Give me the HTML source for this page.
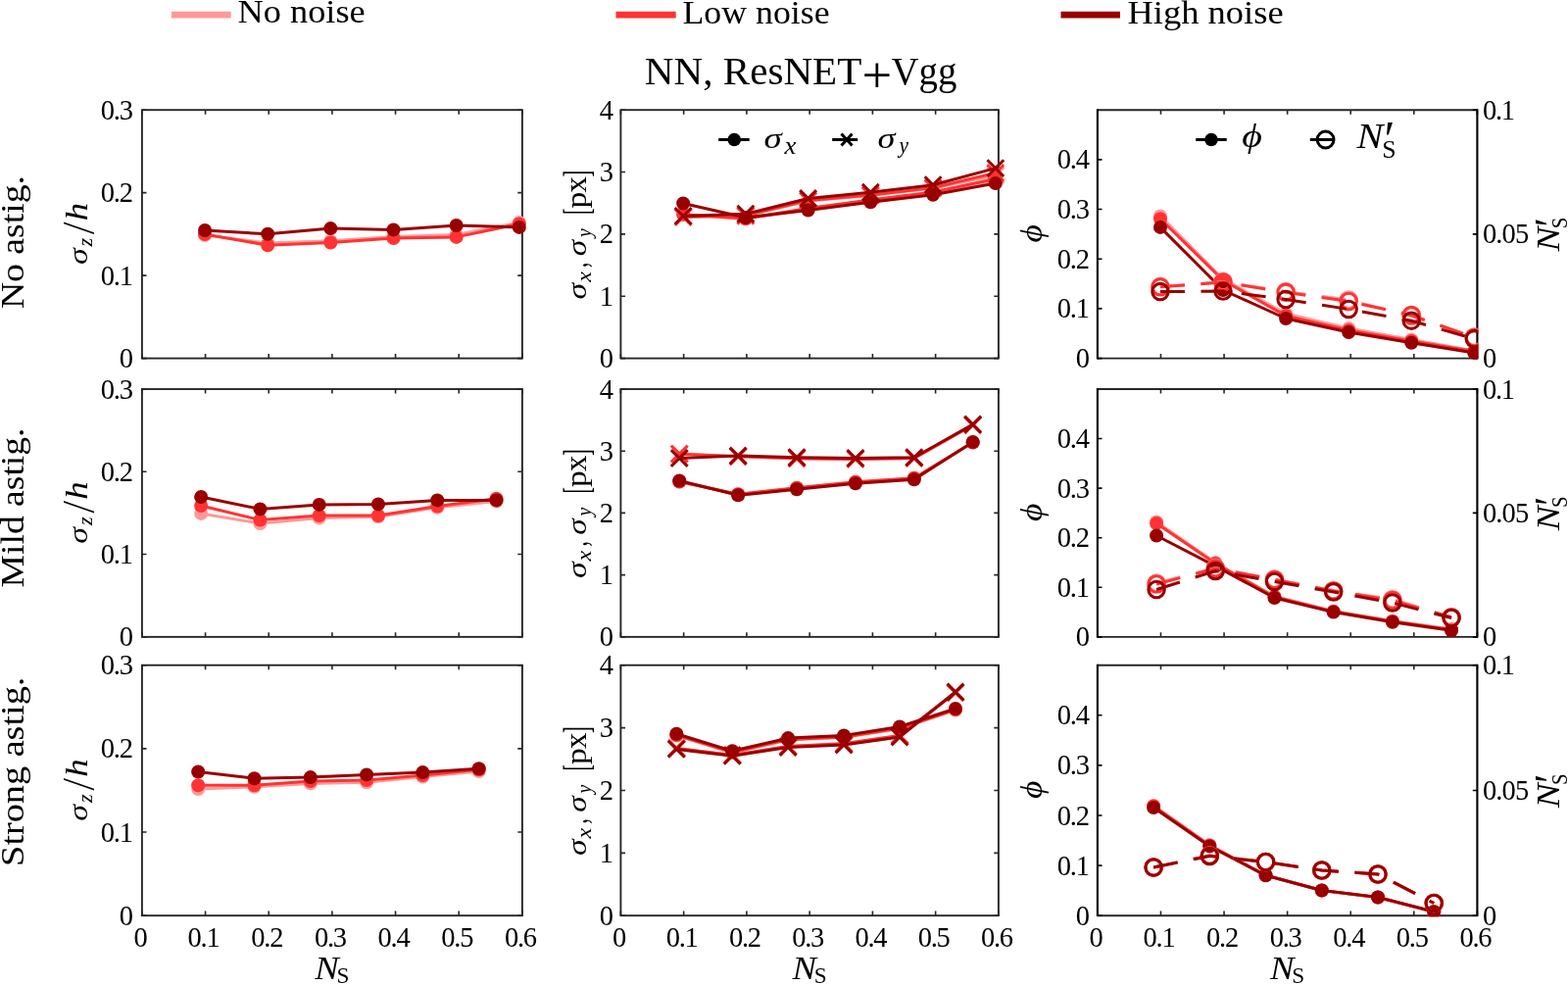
<!DOCTYPE html>
<html><head><meta charset="utf-8"><title>NN, ResNET+Vgg</title>
<style>html,body{margin:0;padding:0;background:#fff;width:1600px;height:1004px;overflow:hidden}svg{display:block}</style>
</head><body>
<svg width="1600" height="1004" viewBox="0 0 1600 1004" font-family="'Liberation Serif', 'DejaVu Serif', serif">
<rect width="1600" height="1004" fill="#fff"/>
<defs>
<clipPath id="c00"><rect x="143.90" y="111.20" width="390.00" height="255.40"/></clipPath>
<clipPath id="c01"><rect x="632.40" y="111.20" width="387.50" height="255.40"/></clipPath>
<clipPath id="c02"><rect x="1118.90" y="111.20" width="389.50" height="255.40"/></clipPath>
<clipPath id="c10"><rect x="143.90" y="396.00" width="390.00" height="254.85"/></clipPath>
<clipPath id="c11"><rect x="632.40" y="396.00" width="387.50" height="254.85"/></clipPath>
<clipPath id="c12"><rect x="1118.90" y="396.00" width="389.50" height="254.85"/></clipPath>
<clipPath id="c20"><rect x="143.90" y="677.70" width="390.00" height="257.50"/></clipPath>
<clipPath id="c21"><rect x="632.40" y="677.70" width="387.50" height="257.50"/></clipPath>
<clipPath id="c22"><rect x="1118.90" y="677.70" width="389.50" height="257.50"/></clipPath>
</defs>
<path d="M144.90 365.60V361.00M144.90 112.20V116.80M209.57 365.60V361.00M209.57 112.20V116.80M274.23 365.60V361.00M274.23 112.20V116.80M338.90 365.60V361.00M338.90 112.20V116.80M403.57 365.60V361.00M403.57 112.20V116.80M468.23 365.60V361.00M468.23 112.20V116.80M532.90 365.60V361.00M532.90 112.20V116.80M144.90 365.60H149.50M532.90 365.60H528.30M144.90 281.13H149.50M532.90 281.13H528.30M144.90 196.67H149.50M532.90 196.67H528.30M144.90 112.20H149.50M532.90 112.20H528.30" stroke="#262626" stroke-width="1.6" fill="none"/>
<rect x="144.90" y="112.20" width="388.00" height="253.40" fill="none" stroke="#262626" stroke-width="1.90"/>
<path d="M633.40 365.60V361.00M633.40 112.20V116.80M697.65 365.60V361.00M697.65 112.20V116.80M761.90 365.60V361.00M761.90 112.20V116.80M826.15 365.60V361.00M826.15 112.20V116.80M890.40 365.60V361.00M890.40 112.20V116.80M954.65 365.60V361.00M954.65 112.20V116.80M1018.90 365.60V361.00M1018.90 112.20V116.80M633.40 365.60H638.00M1018.90 365.60H1014.30M633.40 302.25H638.00M1018.90 302.25H1014.30M633.40 238.90H638.00M1018.90 238.90H1014.30M633.40 175.55H638.00M1018.90 175.55H1014.30M633.40 112.20H638.00M1018.90 112.20H1014.30" stroke="#262626" stroke-width="1.6" fill="none"/>
<rect x="633.40" y="112.20" width="385.50" height="253.40" fill="none" stroke="#262626" stroke-width="1.90"/>
<path d="M1119.90 365.60V361.00M1119.90 112.20V116.80M1184.48 365.60V361.00M1184.48 112.20V116.80M1249.07 365.60V361.00M1249.07 112.20V116.80M1313.65 365.60V361.00M1313.65 112.20V116.80M1378.23 365.60V361.00M1378.23 112.20V116.80M1442.82 365.60V361.00M1442.82 112.20V116.80M1507.40 365.60V361.00M1507.40 112.20V116.80" stroke="#262626" stroke-width="1.6" fill="none"/>
<path d="M1119.90 112.20H1507.40M1119.90 365.60H1507.40" stroke="#262626" stroke-width="1.90" fill="none"/>
<path d="M1119.90 365.60H1124.50M1119.90 314.92H1124.50M1119.90 264.24H1124.50M1119.90 213.56H1124.50M1119.90 162.88H1124.50M1507.40 365.60H1502.80M1507.40 238.90H1502.80M1507.40 112.20H1502.80" stroke="#000" stroke-width="1.6" fill="none"/>
<path d="M1119.90 111.30V366.50M1507.40 111.30V366.50" stroke="#000" stroke-width="2.10" fill="none"/>
<path d="M144.90 649.85V645.25M144.90 397.00V401.60M209.57 649.85V645.25M209.57 397.00V401.60M274.23 649.85V645.25M274.23 397.00V401.60M338.90 649.85V645.25M338.90 397.00V401.60M403.57 649.85V645.25M403.57 397.00V401.60M468.23 649.85V645.25M468.23 397.00V401.60M532.90 649.85V645.25M532.90 397.00V401.60M144.90 649.85H149.50M532.90 649.85H528.30M144.90 565.57H149.50M532.90 565.57H528.30M144.90 481.28H149.50M532.90 481.28H528.30M144.90 397.00H149.50M532.90 397.00H528.30" stroke="#262626" stroke-width="1.6" fill="none"/>
<rect x="144.90" y="397.00" width="388.00" height="252.85" fill="none" stroke="#262626" stroke-width="1.90"/>
<path d="M633.40 649.85V645.25M633.40 397.00V401.60M697.65 649.85V645.25M697.65 397.00V401.60M761.90 649.85V645.25M761.90 397.00V401.60M826.15 649.85V645.25M826.15 397.00V401.60M890.40 649.85V645.25M890.40 397.00V401.60M954.65 649.85V645.25M954.65 397.00V401.60M1018.90 649.85V645.25M1018.90 397.00V401.60M633.40 649.85H638.00M1018.90 649.85H1014.30M633.40 586.64H638.00M1018.90 586.64H1014.30M633.40 523.42H638.00M1018.90 523.42H1014.30M633.40 460.21H638.00M1018.90 460.21H1014.30M633.40 397.00H638.00M1018.90 397.00H1014.30" stroke="#262626" stroke-width="1.6" fill="none"/>
<rect x="633.40" y="397.00" width="385.50" height="252.85" fill="none" stroke="#262626" stroke-width="1.90"/>
<path d="M1119.90 649.85V645.25M1119.90 397.00V401.60M1184.48 649.85V645.25M1184.48 397.00V401.60M1249.07 649.85V645.25M1249.07 397.00V401.60M1313.65 649.85V645.25M1313.65 397.00V401.60M1378.23 649.85V645.25M1378.23 397.00V401.60M1442.82 649.85V645.25M1442.82 397.00V401.60M1507.40 649.85V645.25M1507.40 397.00V401.60" stroke="#262626" stroke-width="1.6" fill="none"/>
<path d="M1119.90 397.00H1507.40M1119.90 649.85H1507.40" stroke="#262626" stroke-width="1.90" fill="none"/>
<path d="M1119.90 649.85H1124.50M1119.90 599.28H1124.50M1119.90 548.71H1124.50M1119.90 498.14H1124.50M1119.90 447.57H1124.50M1507.40 649.85H1502.80M1507.40 523.42H1502.80M1507.40 397.00H1502.80" stroke="#000" stroke-width="1.6" fill="none"/>
<path d="M1119.90 396.10V650.75M1507.40 396.10V650.75" stroke="#000" stroke-width="2.10" fill="none"/>
<path d="M144.90 934.20V929.60M144.90 678.70V683.30M209.57 934.20V929.60M209.57 678.70V683.30M274.23 934.20V929.60M274.23 678.70V683.30M338.90 934.20V929.60M338.90 678.70V683.30M403.57 934.20V929.60M403.57 678.70V683.30M468.23 934.20V929.60M468.23 678.70V683.30M532.90 934.20V929.60M532.90 678.70V683.30M144.90 934.20H149.50M532.90 934.20H528.30M144.90 849.03H149.50M532.90 849.03H528.30M144.90 763.87H149.50M532.90 763.87H528.30M144.90 678.70H149.50M532.90 678.70H528.30" stroke="#262626" stroke-width="1.6" fill="none"/>
<rect x="144.90" y="678.70" width="388.00" height="255.50" fill="none" stroke="#262626" stroke-width="1.90"/>
<path d="M633.40 934.20V929.60M633.40 678.70V683.30M697.65 934.20V929.60M697.65 678.70V683.30M761.90 934.20V929.60M761.90 678.70V683.30M826.15 934.20V929.60M826.15 678.70V683.30M890.40 934.20V929.60M890.40 678.70V683.30M954.65 934.20V929.60M954.65 678.70V683.30M1018.90 934.20V929.60M1018.90 678.70V683.30M633.40 934.20H638.00M1018.90 934.20H1014.30M633.40 870.33H638.00M1018.90 870.33H1014.30M633.40 806.45H638.00M1018.90 806.45H1014.30M633.40 742.58H638.00M1018.90 742.58H1014.30M633.40 678.70H638.00M1018.90 678.70H1014.30" stroke="#262626" stroke-width="1.6" fill="none"/>
<rect x="633.40" y="678.70" width="385.50" height="255.50" fill="none" stroke="#262626" stroke-width="1.90"/>
<path d="M1119.90 934.20V929.60M1119.90 678.70V683.30M1184.48 934.20V929.60M1184.48 678.70V683.30M1249.07 934.20V929.60M1249.07 678.70V683.30M1313.65 934.20V929.60M1313.65 678.70V683.30M1378.23 934.20V929.60M1378.23 678.70V683.30M1442.82 934.20V929.60M1442.82 678.70V683.30M1507.40 934.20V929.60M1507.40 678.70V683.30" stroke="#262626" stroke-width="1.6" fill="none"/>
<path d="M1119.90 678.70H1507.40M1119.90 934.20H1507.40" stroke="#262626" stroke-width="1.90" fill="none"/>
<path d="M1119.90 934.20H1124.50M1119.90 883.10H1124.50M1119.90 832.00H1124.50M1119.90 780.90H1124.50M1119.90 729.80H1124.50M1507.40 934.20H1502.80M1507.40 806.45H1502.80M1507.40 678.70H1502.80" stroke="#000" stroke-width="1.6" fill="none"/>
<path d="M1119.90 677.80V935.10M1507.40 677.80V935.10" stroke="#000" stroke-width="2.10" fill="none"/>
<g><polyline points="209.05,240.00 273.20,248.00 337.35,245.80 401.50,241.50 465.65,239.50 529.80,227.00" fill="none" stroke="#ff9999" stroke-width="3.00" stroke-linejoin="round"/><circle cx="209.05" cy="240.00" r="7.00" fill="#ff9999"/><circle cx="273.20" cy="248.00" r="7.00" fill="#ff9999"/><circle cx="337.35" cy="245.80" r="7.00" fill="#ff9999"/><circle cx="401.50" cy="241.50" r="7.00" fill="#ff9999"/><circle cx="465.65" cy="239.50" r="7.00" fill="#ff9999"/><circle cx="529.80" cy="227.00" r="7.00" fill="#ff9999"/><polyline points="209.05,238.90 273.20,250.30 337.35,247.50 401.50,243.10 465.65,241.90 529.80,228.50" fill="none" stroke="#ff3333" stroke-width="3.00" stroke-linejoin="round"/><circle cx="209.05" cy="238.90" r="7.00" fill="#ff3333"/><circle cx="273.20" cy="250.30" r="7.00" fill="#ff3333"/><circle cx="337.35" cy="247.50" r="7.00" fill="#ff3333"/><circle cx="401.50" cy="243.10" r="7.00" fill="#ff3333"/><circle cx="465.65" cy="241.90" r="7.00" fill="#ff3333"/><circle cx="529.80" cy="228.50" r="7.00" fill="#ff3333"/><polyline points="209.05,235.00 273.20,238.75 337.35,233.10 401.50,234.40 465.65,230.00 529.80,231.90" fill="none" stroke="#990000" stroke-width="3.00" stroke-linejoin="round"/><circle cx="209.05" cy="235.00" r="7.00" fill="#990000"/><circle cx="273.20" cy="238.75" r="7.00" fill="#990000"/><circle cx="337.35" cy="233.10" r="7.00" fill="#990000"/><circle cx="401.50" cy="234.40" r="7.00" fill="#990000"/><circle cx="465.65" cy="230.00" r="7.00" fill="#990000"/><circle cx="529.80" cy="231.90" r="7.00" fill="#990000"/></g>
<g><polyline points="697.14,219.00 760.87,223.50 824.61,213.00 888.34,204.50 952.08,196.50 1015.82,184.00" fill="none" stroke="#ff9999" stroke-width="3.00" stroke-linejoin="round"/><circle cx="697.14" cy="219.00" r="7.00" fill="#ff9999"/><circle cx="760.87" cy="223.50" r="7.00" fill="#ff9999"/><circle cx="824.61" cy="213.00" r="7.00" fill="#ff9999"/><circle cx="888.34" cy="204.50" r="7.00" fill="#ff9999"/><circle cx="952.08" cy="196.50" r="7.00" fill="#ff9999"/><circle cx="1015.82" cy="184.00" r="7.00" fill="#ff9999"/><polyline points="697.14,221.50 760.87,220.50 824.61,205.00 888.34,199.50 952.08,192.00 1015.82,179.00" fill="none" stroke="#ff9999" stroke-width="3.00" stroke-linejoin="round"/><path d="M688.74 213.10L705.54 229.90M688.74 229.90L705.54 213.10" stroke="#ff9999" stroke-width="3" fill="none"/><path d="M752.47 212.10L769.27 228.90M752.47 228.90L769.27 212.10" stroke="#ff9999" stroke-width="3" fill="none"/><path d="M816.21 196.60L833.01 213.40M816.21 213.40L833.01 196.60" stroke="#ff9999" stroke-width="3" fill="none"/><path d="M879.94 191.10L896.74 207.90M879.94 207.90L896.74 191.10" stroke="#ff9999" stroke-width="3" fill="none"/><path d="M943.68 183.60L960.48 200.40M943.68 200.40L960.48 183.60" stroke="#ff9999" stroke-width="3" fill="none"/><path d="M1007.42 170.60L1024.22 187.40M1007.42 187.40L1024.22 170.60" stroke="#ff9999" stroke-width="3" fill="none"/><polyline points="697.14,218.75 760.87,223.00 824.61,212.50 888.34,204.00 952.08,196.00 1015.82,182.50" fill="none" stroke="#ff3333" stroke-width="3.00" stroke-linejoin="round"/><circle cx="697.14" cy="218.75" r="7.00" fill="#ff3333"/><circle cx="760.87" cy="223.00" r="7.00" fill="#ff3333"/><circle cx="824.61" cy="212.50" r="7.00" fill="#ff3333"/><circle cx="888.34" cy="204.00" r="7.00" fill="#ff3333"/><circle cx="952.08" cy="196.00" r="7.00" fill="#ff3333"/><circle cx="1015.82" cy="182.50" r="7.00" fill="#ff3333"/><polyline points="697.14,221.25 760.87,219.80 824.61,204.50 888.34,199.00 952.08,191.50 1015.82,176.50" fill="none" stroke="#ff3333" stroke-width="3.00" stroke-linejoin="round"/><path d="M688.74 212.85L705.54 229.65M688.74 229.65L705.54 212.85" stroke="#ff3333" stroke-width="3" fill="none"/><path d="M752.47 211.40L769.27 228.20M752.47 228.20L769.27 211.40" stroke="#ff3333" stroke-width="3" fill="none"/><path d="M816.21 196.10L833.01 212.90M816.21 212.90L833.01 196.10" stroke="#ff3333" stroke-width="3" fill="none"/><path d="M879.94 190.60L896.74 207.40M879.94 207.40L896.74 190.60" stroke="#ff3333" stroke-width="3" fill="none"/><path d="M943.68 183.10L960.48 199.90M943.68 199.90L960.48 183.10" stroke="#ff3333" stroke-width="3" fill="none"/><path d="M1007.42 168.10L1024.22 184.90M1007.42 184.90L1024.22 168.10" stroke="#ff3333" stroke-width="3" fill="none"/><polyline points="697.14,207.50 760.87,222.00 824.61,214.50 888.34,206.30 952.08,198.70 1015.82,187.10" fill="none" stroke="#990000" stroke-width="3.00" stroke-linejoin="round"/><circle cx="697.14" cy="207.50" r="7.00" fill="#990000"/><circle cx="760.87" cy="222.00" r="7.00" fill="#990000"/><circle cx="824.61" cy="214.50" r="7.00" fill="#990000"/><circle cx="888.34" cy="206.30" r="7.00" fill="#990000"/><circle cx="952.08" cy="198.70" r="7.00" fill="#990000"/><circle cx="1015.82" cy="187.10" r="7.00" fill="#990000"/><polyline points="697.14,220.40 760.87,218.20 824.61,202.50 888.34,196.30 952.08,188.70 1015.82,171.60" fill="none" stroke="#990000" stroke-width="3.00" stroke-linejoin="round"/><path d="M688.74 212.00L705.54 228.80M688.74 228.80L705.54 212.00" stroke="#990000" stroke-width="3" fill="none"/><path d="M752.47 209.80L769.27 226.60M752.47 226.60L769.27 209.80" stroke="#990000" stroke-width="3" fill="none"/><path d="M816.21 194.10L833.01 210.90M816.21 210.90L833.01 194.10" stroke="#990000" stroke-width="3" fill="none"/><path d="M879.94 187.90L896.74 204.70M879.94 204.70L896.74 187.90" stroke="#990000" stroke-width="3" fill="none"/><path d="M943.68 180.30L960.48 197.10M943.68 197.10L960.48 180.30" stroke="#990000" stroke-width="3" fill="none"/><path d="M1007.42 163.20L1024.22 180.00M1007.42 180.00L1024.22 163.20" stroke="#990000" stroke-width="3" fill="none"/></g>
<g clip-path="url(#c02)"><polyline points="1183.97,220.40 1248.03,284.50 1312.10,320.00 1376.17,335.00 1440.23,346.50 1504.30,358.00" fill="none" stroke="#ff9999" stroke-width="3.00" stroke-linejoin="round"/><circle cx="1183.97" cy="220.40" r="7.00" fill="#ff9999"/><circle cx="1248.03" cy="284.50" r="7.00" fill="#ff9999"/><circle cx="1312.10" cy="320.00" r="7.00" fill="#ff9999"/><circle cx="1376.17" cy="335.00" r="7.00" fill="#ff9999"/><circle cx="1440.23" cy="346.50" r="7.00" fill="#ff9999"/><circle cx="1504.30" cy="358.00" r="7.00" fill="#ff9999"/><polyline points="1183.97,223.20 1248.03,286.00 1312.10,322.30 1376.17,337.00 1440.23,348.00 1504.30,358.50" fill="none" stroke="#ff3333" stroke-width="3.00" stroke-linejoin="round"/><circle cx="1183.97" cy="223.20" r="7.00" fill="#ff3333"/><circle cx="1248.03" cy="286.00" r="7.00" fill="#ff3333"/><circle cx="1312.10" cy="322.30" r="7.00" fill="#ff3333"/><circle cx="1376.17" cy="337.00" r="7.00" fill="#ff3333"/><circle cx="1440.23" cy="348.00" r="7.00" fill="#ff3333"/><circle cx="1504.30" cy="358.50" r="7.00" fill="#ff3333"/><polyline points="1183.97,231.90 1248.03,296.00 1312.10,325.00 1376.17,339.00 1440.23,349.80 1504.30,360.00" fill="none" stroke="#990000" stroke-width="3.00" stroke-linejoin="round"/><circle cx="1183.97" cy="231.90" r="7.00" fill="#990000"/><circle cx="1248.03" cy="296.00" r="7.00" fill="#990000"/><circle cx="1312.10" cy="325.00" r="7.00" fill="#990000"/><circle cx="1376.17" cy="339.00" r="7.00" fill="#990000"/><circle cx="1440.23" cy="349.80" r="7.00" fill="#990000"/><circle cx="1504.30" cy="360.00" r="7.00" fill="#990000"/><polyline points="1183.97,292.50 1248.03,287.50 1312.10,297.50 1376.17,306.00 1440.23,322.50 1504.30,344.00" fill="none" stroke="#ff9999" stroke-width="3.00" stroke-linejoin="round" stroke-dasharray="25 16.5"/><circle cx="1183.97" cy="292.50" r="8.20" fill="none" stroke="#ff9999" stroke-width="3.1"/><circle cx="1248.03" cy="287.50" r="8.20" fill="none" stroke="#ff9999" stroke-width="3.1"/><circle cx="1312.10" cy="297.50" r="8.20" fill="none" stroke="#ff9999" stroke-width="3.1"/><circle cx="1376.17" cy="306.00" r="8.20" fill="none" stroke="#ff9999" stroke-width="3.1"/><circle cx="1440.23" cy="322.50" r="8.20" fill="none" stroke="#ff9999" stroke-width="3.1"/><circle cx="1504.30" cy="344.00" r="8.20" fill="none" stroke="#ff9999" stroke-width="3.1"/><polyline points="1183.97,292.80 1248.03,288.00 1312.10,298.30 1376.17,307.50 1440.23,321.50 1504.30,344.50" fill="none" stroke="#ff3333" stroke-width="3.00" stroke-linejoin="round" stroke-dasharray="25 16.5"/><circle cx="1183.97" cy="292.80" r="8.20" fill="none" stroke="#ff3333" stroke-width="3.1"/><circle cx="1248.03" cy="288.00" r="8.20" fill="none" stroke="#ff3333" stroke-width="3.1"/><circle cx="1312.10" cy="298.30" r="8.20" fill="none" stroke="#ff3333" stroke-width="3.1"/><circle cx="1376.17" cy="307.50" r="8.20" fill="none" stroke="#ff3333" stroke-width="3.1"/><circle cx="1440.23" cy="321.50" r="8.20" fill="none" stroke="#ff3333" stroke-width="3.1"/><circle cx="1504.30" cy="344.50" r="8.20" fill="none" stroke="#ff3333" stroke-width="3.1"/><polyline points="1183.97,297.60 1248.03,297.10 1312.10,305.50 1376.17,315.50 1440.23,327.20 1504.30,345.80" fill="none" stroke="#990000" stroke-width="3.00" stroke-linejoin="round" stroke-dasharray="25 16.5"/><circle cx="1183.97" cy="297.60" r="8.20" fill="none" stroke="#990000" stroke-width="3.1"/><circle cx="1248.03" cy="297.10" r="8.20" fill="none" stroke="#990000" stroke-width="3.1"/><circle cx="1312.10" cy="305.50" r="8.20" fill="none" stroke="#990000" stroke-width="3.1"/><circle cx="1376.17" cy="315.50" r="8.20" fill="none" stroke="#990000" stroke-width="3.1"/><circle cx="1440.23" cy="327.20" r="8.20" fill="none" stroke="#990000" stroke-width="3.1"/><circle cx="1504.30" cy="345.80" r="8.20" fill="none" stroke="#990000" stroke-width="3.1"/></g>
<g><polyline points="205.17,523.90 265.44,534.00 325.71,528.40 385.98,527.25 446.25,517.80 506.52,511.50" fill="none" stroke="#ff9999" stroke-width="3.00" stroke-linejoin="round"/><circle cx="205.17" cy="523.90" r="7.00" fill="#ff9999"/><circle cx="265.44" cy="534.00" r="7.00" fill="#ff9999"/><circle cx="325.71" cy="528.40" r="7.00" fill="#ff9999"/><circle cx="385.98" cy="527.25" r="7.00" fill="#ff9999"/><circle cx="446.25" cy="517.80" r="7.00" fill="#ff9999"/><circle cx="506.52" cy="511.50" r="7.00" fill="#ff9999"/><polyline points="205.17,516.00 265.44,530.60 325.71,526.10 385.98,526.10 446.25,516.50 506.52,508.80" fill="none" stroke="#ff3333" stroke-width="3.00" stroke-linejoin="round"/><circle cx="205.17" cy="516.00" r="7.00" fill="#ff3333"/><circle cx="265.44" cy="530.60" r="7.00" fill="#ff3333"/><circle cx="325.71" cy="526.10" r="7.00" fill="#ff3333"/><circle cx="385.98" cy="526.10" r="7.00" fill="#ff3333"/><circle cx="446.25" cy="516.50" r="7.00" fill="#ff3333"/><circle cx="506.52" cy="508.80" r="7.00" fill="#ff3333"/><polyline points="205.17,507.00 265.44,519.40 325.71,514.90 385.98,514.40 446.25,510.40 506.52,510.40" fill="none" stroke="#990000" stroke-width="3.00" stroke-linejoin="round"/><circle cx="205.17" cy="507.00" r="7.00" fill="#990000"/><circle cx="265.44" cy="519.40" r="7.00" fill="#990000"/><circle cx="325.71" cy="514.90" r="7.00" fill="#990000"/><circle cx="385.98" cy="514.40" r="7.00" fill="#990000"/><circle cx="446.25" cy="510.40" r="7.00" fill="#990000"/><circle cx="506.52" cy="510.40" r="7.00" fill="#990000"/></g>
<g><polyline points="693.28,491.50 753.16,504.50 813.04,498.00 872.92,492.00 932.81,488.00 992.69,451.50" fill="none" stroke="#ff9999" stroke-width="3.00" stroke-linejoin="round"/><circle cx="693.28" cy="491.50" r="7.00" fill="#ff9999"/><circle cx="753.16" cy="504.50" r="7.00" fill="#ff9999"/><circle cx="813.04" cy="498.00" r="7.00" fill="#ff9999"/><circle cx="872.92" cy="492.00" r="7.00" fill="#ff9999"/><circle cx="932.81" cy="488.00" r="7.00" fill="#ff9999"/><circle cx="992.69" cy="451.50" r="7.00" fill="#ff9999"/><polyline points="693.28,463.00 753.16,465.80 813.04,467.80 872.92,468.40 932.81,467.60 992.69,434.00" fill="none" stroke="#ff9999" stroke-width="3.00" stroke-linejoin="round"/><path d="M684.88 454.60L701.68 471.40M684.88 471.40L701.68 454.60" stroke="#ff9999" stroke-width="3" fill="none"/><path d="M744.76 457.40L761.56 474.20M744.76 474.20L761.56 457.40" stroke="#ff9999" stroke-width="3" fill="none"/><path d="M804.64 459.40L821.44 476.20M804.64 476.20L821.44 459.40" stroke="#ff9999" stroke-width="3" fill="none"/><path d="M864.52 460.00L881.32 476.80M864.52 476.80L881.32 460.00" stroke="#ff9999" stroke-width="3" fill="none"/><path d="M924.41 459.20L941.21 476.00M924.41 476.00L941.21 459.20" stroke="#ff9999" stroke-width="3" fill="none"/><path d="M984.29 425.60L1001.09 442.40M984.29 442.40L1001.09 425.60" stroke="#ff9999" stroke-width="3" fill="none"/><polyline points="693.28,491.50 753.16,504.30 813.04,497.80 872.92,491.80 932.81,487.80 992.69,451.50" fill="none" stroke="#ff3333" stroke-width="3.00" stroke-linejoin="round"/><circle cx="693.28" cy="491.50" r="7.00" fill="#ff3333"/><circle cx="753.16" cy="504.30" r="7.00" fill="#ff3333"/><circle cx="813.04" cy="497.80" r="7.00" fill="#ff3333"/><circle cx="872.92" cy="491.80" r="7.00" fill="#ff3333"/><circle cx="932.81" cy="487.80" r="7.00" fill="#ff3333"/><circle cx="992.69" cy="451.50" r="7.00" fill="#ff3333"/><polyline points="693.28,463.20 753.16,465.70 813.04,467.70 872.92,468.40 932.81,467.50 992.69,433.50" fill="none" stroke="#ff3333" stroke-width="3.00" stroke-linejoin="round"/><path d="M684.88 454.80L701.68 471.60M684.88 471.60L701.68 454.80" stroke="#ff3333" stroke-width="3" fill="none"/><path d="M744.76 457.30L761.56 474.10M744.76 474.10L761.56 457.30" stroke="#ff3333" stroke-width="3" fill="none"/><path d="M804.64 459.30L821.44 476.10M804.64 476.10L821.44 459.30" stroke="#ff3333" stroke-width="3" fill="none"/><path d="M864.52 460.00L881.32 476.80M864.52 476.80L881.32 460.00" stroke="#ff3333" stroke-width="3" fill="none"/><path d="M924.41 459.10L941.21 475.90M924.41 475.90L941.21 459.10" stroke="#ff3333" stroke-width="3" fill="none"/><path d="M984.29 425.10L1001.09 441.90M984.29 441.90L1001.09 425.10" stroke="#ff3333" stroke-width="3" fill="none"/><polyline points="693.28,490.50 753.16,505.30 813.04,499.30 872.92,493.25 932.81,489.20 992.69,451.00" fill="none" stroke="#990000" stroke-width="3.00" stroke-linejoin="round"/><circle cx="693.28" cy="490.50" r="7.00" fill="#990000"/><circle cx="753.16" cy="505.30" r="7.00" fill="#990000"/><circle cx="813.04" cy="499.30" r="7.00" fill="#990000"/><circle cx="872.92" cy="493.25" r="7.00" fill="#990000"/><circle cx="932.81" cy="489.20" r="7.00" fill="#990000"/><circle cx="992.69" cy="451.00" r="7.00" fill="#990000"/><polyline points="693.28,467.50 753.16,465.00 813.04,466.70 872.92,467.40 932.81,466.70 992.69,433.00" fill="none" stroke="#990000" stroke-width="3.00" stroke-linejoin="round"/><path d="M684.88 459.10L701.68 475.90M684.88 475.90L701.68 459.10" stroke="#990000" stroke-width="3" fill="none"/><path d="M744.76 456.60L761.56 473.40M744.76 473.40L761.56 456.60" stroke="#990000" stroke-width="3" fill="none"/><path d="M804.64 458.30L821.44 475.10M804.64 475.10L821.44 458.30" stroke="#990000" stroke-width="3" fill="none"/><path d="M864.52 459.00L881.32 475.80M864.52 475.80L881.32 459.00" stroke="#990000" stroke-width="3" fill="none"/><path d="M924.41 458.30L941.21 475.10M924.41 475.10L941.21 458.30" stroke="#990000" stroke-width="3" fill="none"/><path d="M984.29 424.60L1001.09 441.40M984.29 441.40L1001.09 424.60" stroke="#990000" stroke-width="3" fill="none"/></g>
<g clip-path="url(#c12)"><polyline points="1180.09,532.50 1240.28,574.00 1300.48,608.50 1360.67,623.50 1420.86,633.50 1481.05,642.00" fill="none" stroke="#ff9999" stroke-width="3.00" stroke-linejoin="round"/><circle cx="1180.09" cy="532.50" r="7.00" fill="#ff9999"/><circle cx="1240.28" cy="574.00" r="7.00" fill="#ff9999"/><circle cx="1300.48" cy="608.50" r="7.00" fill="#ff9999"/><circle cx="1360.67" cy="623.50" r="7.00" fill="#ff9999"/><circle cx="1420.86" cy="633.50" r="7.00" fill="#ff9999"/><circle cx="1481.05" cy="642.00" r="7.00" fill="#ff9999"/><polyline points="1180.09,534.00 1240.28,575.00 1300.48,609.00 1360.67,624.00 1420.86,634.00 1481.05,642.50" fill="none" stroke="#ff3333" stroke-width="3.00" stroke-linejoin="round"/><circle cx="1180.09" cy="534.00" r="7.00" fill="#ff3333"/><circle cx="1240.28" cy="575.00" r="7.00" fill="#ff3333"/><circle cx="1300.48" cy="609.00" r="7.00" fill="#ff3333"/><circle cx="1360.67" cy="624.00" r="7.00" fill="#ff3333"/><circle cx="1420.86" cy="634.00" r="7.00" fill="#ff3333"/><circle cx="1481.05" cy="642.50" r="7.00" fill="#ff3333"/><polyline points="1180.09,546.50 1240.28,577.60 1300.48,610.00 1360.67,624.60 1420.86,634.70 1481.05,643.20" fill="none" stroke="#990000" stroke-width="3.00" stroke-linejoin="round"/><circle cx="1180.09" cy="546.50" r="7.00" fill="#990000"/><circle cx="1240.28" cy="577.60" r="7.00" fill="#990000"/><circle cx="1300.48" cy="610.00" r="7.00" fill="#990000"/><circle cx="1360.67" cy="624.60" r="7.00" fill="#990000"/><circle cx="1420.86" cy="634.70" r="7.00" fill="#990000"/><circle cx="1481.05" cy="643.20" r="7.00" fill="#990000"/><polyline points="1180.09,595.00 1240.28,579.50 1300.48,591.00 1360.67,602.50 1420.86,611.50 1481.05,629.50" fill="none" stroke="#ff9999" stroke-width="3.00" stroke-linejoin="round" stroke-dasharray="25 16.5"/><circle cx="1180.09" cy="595.00" r="8.20" fill="none" stroke="#ff9999" stroke-width="3.1"/><circle cx="1240.28" cy="579.50" r="8.20" fill="none" stroke="#ff9999" stroke-width="3.1"/><circle cx="1300.48" cy="591.00" r="8.20" fill="none" stroke="#ff9999" stroke-width="3.1"/><circle cx="1360.67" cy="602.50" r="8.20" fill="none" stroke="#ff9999" stroke-width="3.1"/><circle cx="1420.86" cy="611.50" r="8.20" fill="none" stroke="#ff9999" stroke-width="3.1"/><circle cx="1481.05" cy="629.50" r="8.20" fill="none" stroke="#ff9999" stroke-width="3.1"/><polyline points="1180.09,596.00 1240.28,580.00 1300.48,591.50 1360.67,603.00 1420.86,612.50 1481.05,630.00" fill="none" stroke="#ff3333" stroke-width="3.00" stroke-linejoin="round" stroke-dasharray="25 16.5"/><circle cx="1180.09" cy="596.00" r="8.20" fill="none" stroke="#ff3333" stroke-width="3.1"/><circle cx="1240.28" cy="580.00" r="8.20" fill="none" stroke="#ff3333" stroke-width="3.1"/><circle cx="1300.48" cy="591.50" r="8.20" fill="none" stroke="#ff3333" stroke-width="3.1"/><circle cx="1360.67" cy="603.00" r="8.20" fill="none" stroke="#ff3333" stroke-width="3.1"/><circle cx="1420.86" cy="612.50" r="8.20" fill="none" stroke="#ff3333" stroke-width="3.1"/><circle cx="1481.05" cy="630.00" r="8.20" fill="none" stroke="#ff3333" stroke-width="3.1"/><polyline points="1180.09,601.50 1240.28,582.50 1300.48,593.50 1360.67,604.00 1420.86,615.00 1481.05,630.50" fill="none" stroke="#990000" stroke-width="3.00" stroke-linejoin="round" stroke-dasharray="25 16.5"/><circle cx="1180.09" cy="601.50" r="8.20" fill="none" stroke="#990000" stroke-width="3.1"/><circle cx="1240.28" cy="582.50" r="8.20" fill="none" stroke="#990000" stroke-width="3.1"/><circle cx="1300.48" cy="593.50" r="8.20" fill="none" stroke="#990000" stroke-width="3.1"/><circle cx="1360.67" cy="604.00" r="8.20" fill="none" stroke="#990000" stroke-width="3.1"/><circle cx="1420.86" cy="615.00" r="8.20" fill="none" stroke="#990000" stroke-width="3.1"/><circle cx="1481.05" cy="630.50" r="8.20" fill="none" stroke="#990000" stroke-width="3.1"/></g>
<g><polyline points="202.19,805.00 259.49,802.75 316.78,799.40 374.08,798.25 431.37,792.60 488.67,787.00" fill="none" stroke="#ff9999" stroke-width="3.00" stroke-linejoin="round"/><circle cx="202.19" cy="805.00" r="7.00" fill="#ff9999"/><circle cx="259.49" cy="802.75" r="7.00" fill="#ff9999"/><circle cx="316.78" cy="799.40" r="7.00" fill="#ff9999"/><circle cx="374.08" cy="798.25" r="7.00" fill="#ff9999"/><circle cx="431.37" cy="792.60" r="7.00" fill="#ff9999"/><circle cx="488.67" cy="787.00" r="7.00" fill="#ff9999"/><polyline points="202.19,801.20 259.49,801.20 316.78,797.10 374.08,796.00 431.37,791.00 488.67,785.20" fill="none" stroke="#ff3333" stroke-width="3.00" stroke-linejoin="round"/><circle cx="202.19" cy="801.20" r="7.00" fill="#ff3333"/><circle cx="259.49" cy="801.20" r="7.00" fill="#ff3333"/><circle cx="316.78" cy="797.10" r="7.00" fill="#ff3333"/><circle cx="374.08" cy="796.00" r="7.00" fill="#ff3333"/><circle cx="431.37" cy="791.00" r="7.00" fill="#ff3333"/><circle cx="488.67" cy="785.20" r="7.00" fill="#ff3333"/><polyline points="202.19,787.45 259.49,794.20 316.78,793.10 374.08,790.40 431.37,788.10 488.67,784.30" fill="none" stroke="#990000" stroke-width="3.00" stroke-linejoin="round"/><circle cx="202.19" cy="787.45" r="7.00" fill="#990000"/><circle cx="259.49" cy="794.20" r="7.00" fill="#990000"/><circle cx="316.78" cy="793.10" r="7.00" fill="#990000"/><circle cx="374.08" cy="790.40" r="7.00" fill="#990000"/><circle cx="431.37" cy="788.10" r="7.00" fill="#990000"/><circle cx="488.67" cy="784.30" r="7.00" fill="#990000"/></g>
<g><polyline points="690.33,750.50 747.25,768.00 804.18,755.00 861.10,752.50 918.03,743.50 974.95,724.50" fill="none" stroke="#ff9999" stroke-width="3.00" stroke-linejoin="round"/><circle cx="690.33" cy="750.50" r="7.00" fill="#ff9999"/><circle cx="747.25" cy="768.00" r="7.00" fill="#ff9999"/><circle cx="804.18" cy="755.00" r="7.00" fill="#ff9999"/><circle cx="861.10" cy="752.50" r="7.00" fill="#ff9999"/><circle cx="918.03" cy="743.50" r="7.00" fill="#ff9999"/><circle cx="974.95" cy="724.50" r="7.00" fill="#ff9999"/><polyline points="690.33,763.50 747.25,770.50 804.18,761.50 861.10,758.80 918.03,750.50 974.95,707.00" fill="none" stroke="#ff9999" stroke-width="3.00" stroke-linejoin="round"/><path d="M681.93 755.10L698.73 771.90M681.93 771.90L698.73 755.10" stroke="#ff9999" stroke-width="3" fill="none"/><path d="M738.85 762.10L755.65 778.90M738.85 778.90L755.65 762.10" stroke="#ff9999" stroke-width="3" fill="none"/><path d="M795.78 753.10L812.58 769.90M795.78 769.90L812.58 753.10" stroke="#ff9999" stroke-width="3" fill="none"/><path d="M852.70 750.40L869.50 767.20M852.70 767.20L869.50 750.40" stroke="#ff9999" stroke-width="3" fill="none"/><path d="M909.63 742.10L926.43 758.90M909.63 758.90L926.43 742.10" stroke="#ff9999" stroke-width="3" fill="none"/><path d="M966.55 698.60L983.35 715.40M966.55 715.40L983.35 698.60" stroke="#ff9999" stroke-width="3" fill="none"/><polyline points="690.33,750.00 747.25,767.50 804.18,754.50 861.10,752.00 918.03,743.00 974.95,724.00" fill="none" stroke="#ff3333" stroke-width="3.00" stroke-linejoin="round"/><circle cx="690.33" cy="750.00" r="7.00" fill="#ff3333"/><circle cx="747.25" cy="767.50" r="7.00" fill="#ff3333"/><circle cx="804.18" cy="754.50" r="7.00" fill="#ff3333"/><circle cx="861.10" cy="752.00" r="7.00" fill="#ff3333"/><circle cx="918.03" cy="743.00" r="7.00" fill="#ff3333"/><circle cx="974.95" cy="724.00" r="7.00" fill="#ff3333"/><polyline points="690.33,763.50 747.25,770.50 804.18,761.50 861.10,758.80 918.03,750.50 974.95,706.50" fill="none" stroke="#ff3333" stroke-width="3.00" stroke-linejoin="round"/><path d="M681.93 755.10L698.73 771.90M681.93 771.90L698.73 755.10" stroke="#ff3333" stroke-width="3" fill="none"/><path d="M738.85 762.10L755.65 778.90M738.85 778.90L755.65 762.10" stroke="#ff3333" stroke-width="3" fill="none"/><path d="M795.78 753.10L812.58 769.90M795.78 769.90L812.58 753.10" stroke="#ff3333" stroke-width="3" fill="none"/><path d="M852.70 750.40L869.50 767.20M852.70 767.20L869.50 750.40" stroke="#ff3333" stroke-width="3" fill="none"/><path d="M909.63 742.10L926.43 758.90M909.63 758.90L926.43 742.10" stroke="#ff3333" stroke-width="3" fill="none"/><path d="M966.55 698.10L983.35 714.90M966.55 714.90L983.35 698.10" stroke="#ff3333" stroke-width="3" fill="none"/><polyline points="690.33,748.75 747.25,766.25 804.18,753.10 861.10,750.50 918.03,741.50 974.95,723.00" fill="none" stroke="#990000" stroke-width="3.00" stroke-linejoin="round"/><circle cx="690.33" cy="748.75" r="7.00" fill="#990000"/><circle cx="747.25" cy="766.25" r="7.00" fill="#990000"/><circle cx="804.18" cy="753.10" r="7.00" fill="#990000"/><circle cx="861.10" cy="750.50" r="7.00" fill="#990000"/><circle cx="918.03" cy="741.50" r="7.00" fill="#990000"/><circle cx="974.95" cy="723.00" r="7.00" fill="#990000"/><polyline points="690.33,764.40 747.25,771.25 804.18,762.50 861.10,760.00 918.03,752.00 974.95,706.00" fill="none" stroke="#990000" stroke-width="3.00" stroke-linejoin="round"/><path d="M681.93 756.00L698.73 772.80M681.93 772.80L698.73 756.00" stroke="#990000" stroke-width="3" fill="none"/><path d="M738.85 762.85L755.65 779.65M738.85 779.65L755.65 762.85" stroke="#990000" stroke-width="3" fill="none"/><path d="M795.78 754.10L812.58 770.90M795.78 770.90L812.58 754.10" stroke="#990000" stroke-width="3" fill="none"/><path d="M852.70 751.60L869.50 768.40M852.70 768.40L869.50 751.60" stroke="#990000" stroke-width="3" fill="none"/><path d="M909.63 743.60L926.43 760.40M909.63 760.40L926.43 743.60" stroke="#990000" stroke-width="3" fill="none"/><path d="M966.55 697.60L983.35 714.40M966.55 714.40L983.35 697.60" stroke="#990000" stroke-width="3" fill="none"/></g>
<g clip-path="url(#c22)"><polyline points="1177.12,822.00 1234.34,862.00 1291.56,893.00 1348.78,908.50 1406.00,915.50 1463.23,930.30" fill="none" stroke="#ff9999" stroke-width="3.00" stroke-linejoin="round"/><circle cx="1177.12" cy="822.00" r="7.00" fill="#ff9999"/><circle cx="1234.34" cy="862.00" r="7.00" fill="#ff9999"/><circle cx="1291.56" cy="893.00" r="7.00" fill="#ff9999"/><circle cx="1348.78" cy="908.50" r="7.00" fill="#ff9999"/><circle cx="1406.00" cy="915.50" r="7.00" fill="#ff9999"/><circle cx="1463.23" cy="930.30" r="7.00" fill="#ff9999"/><polyline points="1177.12,822.50 1234.34,862.80 1291.56,893.00 1348.78,908.50 1406.00,915.50 1463.23,930.30" fill="none" stroke="#ff3333" stroke-width="3.00" stroke-linejoin="round"/><circle cx="1177.12" cy="822.50" r="7.00" fill="#ff3333"/><circle cx="1234.34" cy="862.80" r="7.00" fill="#ff3333"/><circle cx="1291.56" cy="893.00" r="7.00" fill="#ff3333"/><circle cx="1348.78" cy="908.50" r="7.00" fill="#ff3333"/><circle cx="1406.00" cy="915.50" r="7.00" fill="#ff3333"/><circle cx="1463.23" cy="930.30" r="7.00" fill="#ff3333"/><polyline points="1177.12,824.00 1234.34,863.40 1291.56,893.30 1348.78,908.50 1406.00,915.50 1463.23,930.30" fill="none" stroke="#990000" stroke-width="3.00" stroke-linejoin="round"/><circle cx="1177.12" cy="824.00" r="7.00" fill="#990000"/><circle cx="1234.34" cy="863.40" r="7.00" fill="#990000"/><circle cx="1291.56" cy="893.30" r="7.00" fill="#990000"/><circle cx="1348.78" cy="908.50" r="7.00" fill="#990000"/><circle cx="1406.00" cy="915.50" r="7.00" fill="#990000"/><circle cx="1463.23" cy="930.30" r="7.00" fill="#990000"/><polyline points="1177.12,885.00 1234.34,873.00 1291.56,879.50 1348.78,888.00 1406.00,892.00 1463.23,921.50" fill="none" stroke="#ff9999" stroke-width="3.00" stroke-linejoin="round" stroke-dasharray="25 16.5"/><circle cx="1177.12" cy="885.00" r="8.20" fill="none" stroke="#ff9999" stroke-width="3.1"/><circle cx="1234.34" cy="873.00" r="8.20" fill="none" stroke="#ff9999" stroke-width="3.1"/><circle cx="1291.56" cy="879.50" r="8.20" fill="none" stroke="#ff9999" stroke-width="3.1"/><circle cx="1348.78" cy="888.00" r="8.20" fill="none" stroke="#ff9999" stroke-width="3.1"/><circle cx="1406.00" cy="892.00" r="8.20" fill="none" stroke="#ff9999" stroke-width="3.1"/><circle cx="1463.23" cy="921.50" r="8.20" fill="none" stroke="#ff9999" stroke-width="3.1"/><polyline points="1177.12,885.00 1234.34,873.00 1291.56,879.50 1348.78,888.00 1406.00,892.00 1463.23,921.50" fill="none" stroke="#ff3333" stroke-width="3.00" stroke-linejoin="round" stroke-dasharray="25 16.5"/><circle cx="1177.12" cy="885.00" r="8.20" fill="none" stroke="#ff3333" stroke-width="3.1"/><circle cx="1234.34" cy="873.00" r="8.20" fill="none" stroke="#ff3333" stroke-width="3.1"/><circle cx="1291.56" cy="879.50" r="8.20" fill="none" stroke="#ff3333" stroke-width="3.1"/><circle cx="1348.78" cy="888.00" r="8.20" fill="none" stroke="#ff3333" stroke-width="3.1"/><circle cx="1406.00" cy="892.00" r="8.20" fill="none" stroke="#ff3333" stroke-width="3.1"/><circle cx="1463.23" cy="921.50" r="8.20" fill="none" stroke="#ff3333" stroke-width="3.1"/><polyline points="1177.12,885.00 1234.34,873.50 1291.56,879.50 1348.78,888.00 1406.00,892.00 1463.23,921.50" fill="none" stroke="#990000" stroke-width="3.00" stroke-linejoin="round" stroke-dasharray="25 16.5"/><circle cx="1177.12" cy="885.00" r="8.20" fill="none" stroke="#990000" stroke-width="3.1"/><circle cx="1234.34" cy="873.50" r="8.20" fill="none" stroke="#990000" stroke-width="3.1"/><circle cx="1291.56" cy="879.50" r="8.20" fill="none" stroke="#990000" stroke-width="3.1"/><circle cx="1348.78" cy="888.00" r="8.20" fill="none" stroke="#990000" stroke-width="3.1"/><circle cx="1406.00" cy="892.00" r="8.20" fill="none" stroke="#990000" stroke-width="3.1"/><circle cx="1463.23" cy="921.50" r="8.20" fill="none" stroke="#990000" stroke-width="3.1"/></g>
<g fill="#000"><text x="135.90" y="375.15" font-size="28.50" text-anchor="end">0</text><text x="135.90" y="290.68" font-size="28.50" text-anchor="end" textLength="33.12" lengthAdjust="spacing">0.1</text><text x="135.90" y="206.21" font-size="28.50" text-anchor="end" textLength="33.12" lengthAdjust="spacing">0.2</text><text x="135.90" y="121.75" font-size="28.50" text-anchor="end" textLength="33.12" lengthAdjust="spacing">0.3</text><text x="625.90" y="375.15" font-size="28.50" text-anchor="end">0</text><text x="625.90" y="311.80" font-size="28.50" text-anchor="end">1</text><text x="625.90" y="248.45" font-size="28.50" text-anchor="end">2</text><text x="625.90" y="185.10" font-size="28.50" text-anchor="end">3</text><text x="625.90" y="121.75" font-size="28.50" text-anchor="end">4</text><text x="1111.90" y="375.15" font-size="28.50" text-anchor="end">0</text><text x="1111.90" y="324.47" font-size="28.50" text-anchor="end" textLength="33.12" lengthAdjust="spacing">0.1</text><text x="1111.90" y="273.79" font-size="28.50" text-anchor="end" textLength="33.12" lengthAdjust="spacing">0.2</text><text x="1111.90" y="223.11" font-size="28.50" text-anchor="end" textLength="33.12" lengthAdjust="spacing">0.3</text><text x="1111.90" y="172.43" font-size="28.50" text-anchor="end" textLength="33.12" lengthAdjust="spacing">0.4</text><text x="1512.90" y="375.15" font-size="28.50" text-anchor="start">0</text><text x="1512.90" y="248.45" font-size="28.50" text-anchor="start" textLength="47.38" lengthAdjust="spacing">0.05</text><text x="1512.90" y="121.75" font-size="28.50" text-anchor="start" textLength="33.12" lengthAdjust="spacing">0.1</text><text x="135.90" y="659.40" font-size="28.50" text-anchor="end">0</text><text x="135.90" y="575.11" font-size="28.50" text-anchor="end" textLength="33.12" lengthAdjust="spacing">0.1</text><text x="135.90" y="490.83" font-size="28.50" text-anchor="end" textLength="33.12" lengthAdjust="spacing">0.2</text><text x="135.90" y="406.55" font-size="28.50" text-anchor="end" textLength="33.12" lengthAdjust="spacing">0.3</text><text x="625.90" y="659.40" font-size="28.50" text-anchor="end">0</text><text x="625.90" y="596.19" font-size="28.50" text-anchor="end">1</text><text x="625.90" y="532.97" font-size="28.50" text-anchor="end">2</text><text x="625.90" y="469.76" font-size="28.50" text-anchor="end">3</text><text x="625.90" y="406.55" font-size="28.50" text-anchor="end">4</text><text x="1111.90" y="659.40" font-size="28.50" text-anchor="end">0</text><text x="1111.90" y="608.83" font-size="28.50" text-anchor="end" textLength="33.12" lengthAdjust="spacing">0.1</text><text x="1111.90" y="558.26" font-size="28.50" text-anchor="end" textLength="33.12" lengthAdjust="spacing">0.2</text><text x="1111.90" y="507.69" font-size="28.50" text-anchor="end" textLength="33.12" lengthAdjust="spacing">0.3</text><text x="1111.90" y="457.12" font-size="28.50" text-anchor="end" textLength="33.12" lengthAdjust="spacing">0.4</text><text x="1512.90" y="659.40" font-size="28.50" text-anchor="start">0</text><text x="1512.90" y="532.97" font-size="28.50" text-anchor="start" textLength="47.38" lengthAdjust="spacing">0.05</text><text x="1512.90" y="406.55" font-size="28.50" text-anchor="start" textLength="33.12" lengthAdjust="spacing">0.1</text><text x="135.90" y="943.75" font-size="28.50" text-anchor="end">0</text><text x="135.90" y="858.58" font-size="28.50" text-anchor="end" textLength="33.12" lengthAdjust="spacing">0.1</text><text x="135.90" y="773.41" font-size="28.50" text-anchor="end" textLength="33.12" lengthAdjust="spacing">0.2</text><text x="135.90" y="688.25" font-size="28.50" text-anchor="end" textLength="33.12" lengthAdjust="spacing">0.3</text><text x="625.90" y="943.75" font-size="28.50" text-anchor="end">0</text><text x="625.90" y="879.87" font-size="28.50" text-anchor="end">1</text><text x="625.90" y="816.00" font-size="28.50" text-anchor="end">2</text><text x="625.90" y="752.12" font-size="28.50" text-anchor="end">3</text><text x="625.90" y="688.25" font-size="28.50" text-anchor="end">4</text><text x="1111.90" y="943.75" font-size="28.50" text-anchor="end">0</text><text x="1111.90" y="892.65" font-size="28.50" text-anchor="end" textLength="33.12" lengthAdjust="spacing">0.1</text><text x="1111.90" y="841.55" font-size="28.50" text-anchor="end" textLength="33.12" lengthAdjust="spacing">0.2</text><text x="1111.90" y="790.45" font-size="28.50" text-anchor="end" textLength="33.12" lengthAdjust="spacing">0.3</text><text x="1111.90" y="739.35" font-size="28.50" text-anchor="end" textLength="33.12" lengthAdjust="spacing">0.4</text><text x="1512.90" y="943.75" font-size="28.50" text-anchor="start">0</text><text x="1512.90" y="816.00" font-size="28.50" text-anchor="start" textLength="47.38" lengthAdjust="spacing">0.05</text><text x="1512.90" y="688.25" font-size="28.50" text-anchor="start" textLength="33.12" lengthAdjust="spacing">0.1</text><text x="143.50" y="965.50" font-size="28.50" text-anchor="middle">0</text><text x="208.17" y="965.50" font-size="28.50" text-anchor="middle" textLength="33.12" lengthAdjust="spacing">0.1</text><text x="272.83" y="965.50" font-size="28.50" text-anchor="middle" textLength="33.12" lengthAdjust="spacing">0.2</text><text x="337.50" y="965.50" font-size="28.50" text-anchor="middle" textLength="33.12" lengthAdjust="spacing">0.3</text><text x="402.17" y="965.50" font-size="28.50" text-anchor="middle" textLength="33.12" lengthAdjust="spacing">0.4</text><text x="466.83" y="965.50" font-size="28.50" text-anchor="middle" textLength="33.12" lengthAdjust="spacing">0.5</text><text x="531.50" y="965.50" font-size="28.50" text-anchor="middle" textLength="33.12" lengthAdjust="spacing">0.6</text><text x="632.00" y="965.50" font-size="28.50" text-anchor="middle">0</text><text x="696.25" y="965.50" font-size="28.50" text-anchor="middle" textLength="33.12" lengthAdjust="spacing">0.1</text><text x="760.50" y="965.50" font-size="28.50" text-anchor="middle" textLength="33.12" lengthAdjust="spacing">0.2</text><text x="824.75" y="965.50" font-size="28.50" text-anchor="middle" textLength="33.12" lengthAdjust="spacing">0.3</text><text x="889.00" y="965.50" font-size="28.50" text-anchor="middle" textLength="33.12" lengthAdjust="spacing">0.4</text><text x="953.25" y="965.50" font-size="28.50" text-anchor="middle" textLength="33.12" lengthAdjust="spacing">0.5</text><text x="1017.50" y="965.50" font-size="28.50" text-anchor="middle" textLength="33.12" lengthAdjust="spacing">0.6</text><text x="1118.50" y="965.50" font-size="28.50" text-anchor="middle">0</text><text x="1183.08" y="965.50" font-size="28.50" text-anchor="middle" textLength="33.12" lengthAdjust="spacing">0.1</text><text x="1247.67" y="965.50" font-size="28.50" text-anchor="middle" textLength="33.12" lengthAdjust="spacing">0.2</text><text x="1312.25" y="965.50" font-size="28.50" text-anchor="middle" textLength="33.12" lengthAdjust="spacing">0.3</text><text x="1376.83" y="965.50" font-size="28.50" text-anchor="middle" textLength="33.12" lengthAdjust="spacing">0.4</text><text x="1441.42" y="965.50" font-size="28.50" text-anchor="middle" textLength="33.12" lengthAdjust="spacing">0.5</text><text x="1506.00" y="965.50" font-size="28.50" text-anchor="middle" textLength="33.12" lengthAdjust="spacing">0.6</text></g>
<g fill="#000"><text transform="translate(321.18 999.00) scale(0.9201 0.8168)" font-size="40.0" font-style="italic">N</text><text transform="translate(343.49 1003.38) scale(0.5814 0.5541)" font-size="40.0">S</text><text transform="translate(808.43 999.00) scale(0.9201 0.8168)" font-size="40.0" font-style="italic">N</text><text transform="translate(830.74 1003.38) scale(0.5814 0.5541)" font-size="40.0">S</text><text transform="translate(1295.93 999.00) scale(0.9201 0.8168)" font-size="40.0" font-style="italic">N</text><text transform="translate(1318.24 1003.38) scale(0.5814 0.5541)" font-size="40.0">S</text><g transform="translate(88.80 238.90) rotate(-90)"><text transform="translate(-31.22 0.04) scale(0.8485 0.6571)" font-size="40.0" font-style="italic">σ</text><text transform="translate(-12.48 4.80) scale(0.5584 0.5272)" font-size="40.0" font-style="italic">z</text><text transform="translate(1.40 6.94) scale(0.7750 1.1567)" font-size="40.0" font-style="italic">/</text><text transform="translate(13.71 0.00) scale(0.9235 0.7806)" font-size="40.0" font-style="italic">h</text></g><g transform="translate(598.50 238.90) rotate(-90)"><text transform="translate(-66.61 -0.17) scale(0.8434 0.6810)" font-size="40.0" font-style="italic">σ</text><text transform="translate(-48.96 4.60) scale(0.6067 0.5109)" font-size="40.0" font-style="italic">x</text><text transform="translate(-34.06 0.01) scale(0.5345 0.8824)" font-size="40.0">,</text><text transform="translate(-22.29 -0.17) scale(0.8283 0.6810)" font-size="40.0" font-style="italic">σ</text><text transform="translate(-3.03 4.20) scale(0.4906 0.5000)" font-size="40.0" font-style="italic">y</text><text transform="translate(19.97 2.19) scale(0.4773 0.9277)" font-size="40.0">[</text><text transform="translate(26.49 -0.71) scale(0.8427 0.7226)" font-size="40.0">p</text><text transform="translate(42.37 -0.20) scale(0.8177 0.7663)" font-size="40.0">x</text><text transform="translate(58.50 2.19) scale(0.5000 0.9277)" font-size="40.0">]</text></g><g transform="translate(1063.50 238.90) rotate(-90)"><text transform="translate(-8.59 -0.19) scale(0.8883 0.7665)" font-size="40.0" font-style="italic">ϕ</text></g><g transform="translate(1591.10 238.90) rotate(-90)"><text transform="translate(-17.71 0.00) scale(0.9340 0.8168)" font-size="40.0" font-style="italic">N</text><text transform="translate(7.33 7.22) scale(1.0833 1.1383)" font-size="40.0">′</text><text transform="translate(5.54 8.38) scale(0.5233 0.5522)" font-size="40.0">S</text></g><g transform="translate(88.80 523.42) rotate(-90)"><text transform="translate(-31.22 0.04) scale(0.8485 0.6571)" font-size="40.0" font-style="italic">σ</text><text transform="translate(-12.48 4.80) scale(0.5584 0.5272)" font-size="40.0" font-style="italic">z</text><text transform="translate(1.40 6.94) scale(0.7750 1.1567)" font-size="40.0" font-style="italic">/</text><text transform="translate(13.71 0.00) scale(0.9235 0.7806)" font-size="40.0" font-style="italic">h</text></g><g transform="translate(598.50 523.42) rotate(-90)"><text transform="translate(-66.61 -0.17) scale(0.8434 0.6810)" font-size="40.0" font-style="italic">σ</text><text transform="translate(-48.96 4.60) scale(0.6067 0.5109)" font-size="40.0" font-style="italic">x</text><text transform="translate(-34.06 0.01) scale(0.5345 0.8824)" font-size="40.0">,</text><text transform="translate(-22.29 -0.17) scale(0.8283 0.6810)" font-size="40.0" font-style="italic">σ</text><text transform="translate(-3.03 4.20) scale(0.4906 0.5000)" font-size="40.0" font-style="italic">y</text><text transform="translate(19.97 2.19) scale(0.4773 0.9277)" font-size="40.0">[</text><text transform="translate(26.49 -0.71) scale(0.8427 0.7226)" font-size="40.0">p</text><text transform="translate(42.37 -0.20) scale(0.8177 0.7663)" font-size="40.0">x</text><text transform="translate(58.50 2.19) scale(0.5000 0.9277)" font-size="40.0">]</text></g><g transform="translate(1063.50 523.42) rotate(-90)"><text transform="translate(-8.59 -0.19) scale(0.8883 0.7665)" font-size="40.0" font-style="italic">ϕ</text></g><g transform="translate(1591.10 523.42) rotate(-90)"><text transform="translate(-17.71 0.00) scale(0.9340 0.8168)" font-size="40.0" font-style="italic">N</text><text transform="translate(7.33 7.22) scale(1.0833 1.1383)" font-size="40.0">′</text><text transform="translate(5.54 8.38) scale(0.5233 0.5522)" font-size="40.0">S</text></g><g transform="translate(88.80 806.45) rotate(-90)"><text transform="translate(-31.22 0.04) scale(0.8485 0.6571)" font-size="40.0" font-style="italic">σ</text><text transform="translate(-12.48 4.80) scale(0.5584 0.5272)" font-size="40.0" font-style="italic">z</text><text transform="translate(1.40 6.94) scale(0.7750 1.1567)" font-size="40.0" font-style="italic">/</text><text transform="translate(13.71 0.00) scale(0.9235 0.7806)" font-size="40.0" font-style="italic">h</text></g><g transform="translate(598.50 806.45) rotate(-90)"><text transform="translate(-66.61 -0.17) scale(0.8434 0.6810)" font-size="40.0" font-style="italic">σ</text><text transform="translate(-48.96 4.60) scale(0.6067 0.5109)" font-size="40.0" font-style="italic">x</text><text transform="translate(-34.06 0.01) scale(0.5345 0.8824)" font-size="40.0">,</text><text transform="translate(-22.29 -0.17) scale(0.8283 0.6810)" font-size="40.0" font-style="italic">σ</text><text transform="translate(-3.03 4.20) scale(0.4906 0.5000)" font-size="40.0" font-style="italic">y</text><text transform="translate(19.97 2.19) scale(0.4773 0.9277)" font-size="40.0">[</text><text transform="translate(26.49 -0.71) scale(0.8427 0.7226)" font-size="40.0">p</text><text transform="translate(42.37 -0.20) scale(0.8177 0.7663)" font-size="40.0">x</text><text transform="translate(58.50 2.19) scale(0.5000 0.9277)" font-size="40.0">]</text></g><g transform="translate(1063.50 806.45) rotate(-90)"><text transform="translate(-8.59 -0.19) scale(0.8883 0.7665)" font-size="40.0" font-style="italic">ϕ</text></g><g transform="translate(1591.10 806.45) rotate(-90)"><text transform="translate(-17.71 0.00) scale(0.9340 0.8168)" font-size="40.0" font-style="italic">N</text><text transform="translate(7.33 7.22) scale(1.0833 1.1383)" font-size="40.0">′</text><text transform="translate(5.54 8.38) scale(0.5233 0.5522)" font-size="40.0">S</text></g></g>
<g fill="#000"><g transform="translate(23.7 314) rotate(-90)"><text x="-1.13" y="0.00" font-size="34.50" textLength="136.11" lengthAdjust="spacingAndGlyphs">No astig.</text></g><g transform="translate(24.1 598.3) rotate(-90)"><text x="-1.13" y="0.00" font-size="34.50" textLength="162.91" lengthAdjust="spacingAndGlyphs">Mild astig.</text></g><g transform="translate(24.3 881.4) rotate(-90)"><text x="-2.49" y="0.00" font-size="34.50" textLength="193.29" lengthAdjust="spacingAndGlyphs">Strong astig.</text></g></g>
<g fill="#000"><text x="657.77" y="86.00" font-size="40.50" textLength="221.59" lengthAdjust="spacingAndGlyphs">NN, ResNET</text><text transform="translate(879.48 94.19) scale(1.3602 1.3138)" font-size="40.0">+</text><text x="909.61" y="86.00" font-size="40.50" textLength="66.75" lengthAdjust="spacingAndGlyphs">Vgg</text></g>
<g fill="#000"><line x1="175" y1="15.2" x2="235.7" y2="15.2" stroke="#ff9999" stroke-width="6.8"/><line x1="628.5" y1="15.2" x2="689.7" y2="15.2" stroke="#ff3333" stroke-width="6.8"/><line x1="1082.5" y1="15.2" x2="1143" y2="15.2" stroke="#990000" stroke-width="6.8"/><text x="242.51" y="23.40" font-size="34.50" textLength="130.19" lengthAdjust="spacingAndGlyphs">No noise</text><text x="696.43" y="23.80" font-size="34.50" textLength="150.19" lengthAdjust="spacingAndGlyphs">Low noise</text><text x="1150.40" y="23.80" font-size="34.50" textLength="159.30" lengthAdjust="spacingAndGlyphs">High noise</text></g>
<g fill="#000"><path d="M733.2 142.5H764.7" stroke="#000" stroke-width="3"/><circle cx="749.25" cy="142.5" r="6.8" fill="#000"/><text transform="translate(779.49 151.30) scale(0.9242 0.7619)" font-size="40.0" font-style="italic">σ</text><text transform="translate(800.57 156.70) scale(0.6742 0.6522)" font-size="40.0" font-style="italic">x</text><path d="M849.2 142.5H875.2" stroke="#000" stroke-width="3"/><path d="M858.5 136.5L869.5 148.5M858.5 148.5L869.5 136.5" stroke="#000" stroke-width="3"/><text transform="translate(895.41 151.30) scale(0.9091 0.7619)" font-size="40.0" font-style="italic">σ</text><text transform="translate(917.43 155.54) scale(0.5377 0.5889)" font-size="40.0" font-style="italic">y</text><path d="M1220.25 142.5H1251.75" stroke="#000" stroke-width="3"/><circle cx="1236" cy="142.5" r="6.8" fill="#000"/><text transform="translate(1267.25 150.34) scale(0.9973 0.8324)" font-size="40.0" font-style="italic">ϕ</text><path d="M1336.8 142.5H1345" stroke="#000" stroke-width="3"/><circle cx="1352.6" cy="142.5" r="8.4" fill="none" stroke="#000" stroke-width="3"/><path d="M1345 142.5H1360" stroke="#000" stroke-width="3"/><text transform="translate(1384.50 150.90) scale(1.0069 0.8893)" font-size="40.0" font-style="italic">N</text><text transform="translate(1412.50 160.02) scale(1.2500 1.3404)" font-size="40.0">′</text><text transform="translate(1410.32 160.55) scale(0.6453 0.6269)" font-size="40.0">S</text></g>
</svg>
</body></html>
